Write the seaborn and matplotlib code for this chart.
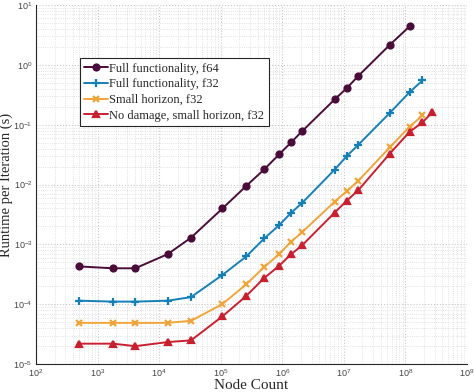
import numpy as np
import pandas as pd
import seaborn as sns
import matplotlib.pyplot as plt
from matplotlib.ticker import LogLocator, NullFormatter

# node counts shared by the runs
nodes = [500, 1780, 4100, 13800, 33000, 107000, 260000, 510000, 890000,
         1.4e6, 2.13e6, 7.1e6, 1.12e7, 1.71e7, 5.6e7, 1.17e8, 1.9e8, 2.75e8]

# runtime per iteration (s)
full_f64 = [4.3e-4, 4.0e-4, 4.0e-4, 6.9e-4, 1.3e-3, 4.0e-3, 9.5e-3, 1.8e-2, 3.2e-2,
            0.051, 0.079, 0.265, 0.41, 0.65, 2.17, 4.4]
full_f32 = [1.15e-4, 1.11e-4, 1.11e-4, 1.15e-4, 1.32e-4, 3.1e-4, 6.3e-4, 1.26e-3, 2.1e-3,
            3.4e-3, 5.0e-3, 1.78e-2, 0.030, 0.046, 0.158, 0.35, 0.55]
small_f32 = [4.9e-5, 4.9e-5, 4.9e-5, 4.9e-5, 5.3e-5, 1.01e-4, 2.16e-4, 4.2e-4, 6.9e-4,
             1.12e-3, 1.62e-3, 5.2e-3, 7.8e-3, 1.15e-2, 0.042, 0.093, 0.143]
nodmg_f32 = [2.2e-5, 2.2e-5, 2.0e-5, 2.34e-5, 2.5e-5, 6.3e-5, 1.38e-4, 2.75e-4, 4.4e-4,
             6.9e-4, 9.8e-4, 3.4e-3, 5.4e-3, 8.0e-3, 0.033, 0.076, 0.110, 0.161]

labels = ["Full functionality, f64", "Full functionality, f32",
          "Small horizon, f32", "No damage, small horizon, f32"]
series = [full_f64, full_f32, small_f32, nodmg_f32]
colors = ["#4a0c38", "#1580b5", "#f0a53a", "#c9202f"]
markers = ["o", "+", "x", "^"]
msizes = [4.3, 6, 5, 5]

sns.set_theme(style="white")
plt.rcParams["font.family"] = ["Liberation Serif", "DejaVu Serif"]

fig = plt.figure(figsize=(4.74, 3.92), dpi=100)
ax = fig.add_axes([0.076, 0.071, 0.909, 0.916])

for lab, vals, c, m, ms in zip(labels, series, colors, markers, msizes):
    d = pd.DataFrame({"Nodes": nodes[:len(vals)], "Runtime": vals})
    sns.lineplot(data=d, x="Nodes", y="Runtime", color=c, marker=m, label=lab,
                 linewidth=1.4, markersize=ms, markeredgewidth=1.6,
                 markeredgecolor=c, ax=ax)

ax.set_xscale("log")
ax.set_yscale("log")
ax.set_xlim(1e2, 1e9)
ax.set_ylim(1e-5, 1e1)

ax.xaxis.set_major_locator(LogLocator(base=10, numticks=20))
ax.yaxis.set_major_locator(LogLocator(base=10, numticks=20))
ax.xaxis.set_minor_locator(LogLocator(base=10, subs=np.arange(2, 10), numticks=100))
ax.yaxis.set_minor_locator(LogLocator(base=10, subs=np.arange(2, 10), numticks=100))
ax.xaxis.set_minor_formatter(NullFormatter())
ax.yaxis.set_minor_formatter(NullFormatter())

ax.grid(True, which="major", color="#c8c8c8", linestyle=":", linewidth=0.8)
ax.grid(True, which="minor", color="#d8d8d8", linestyle=":", linewidth=0.6)
ax.set_axisbelow(True)

for s in ["top", "right"]:
    ax.spines[s].set_visible(False)
for s in ["left", "bottom"]:
    ax.spines[s].set_color("#262626")
    ax.spines[s].set_linewidth(0.8)
ax.tick_params(which="both", direction="in", color="#262626", labelcolor="#444444")
ax.tick_params(which="major", length=4, labelsize=6.5, pad=2.5)
ax.tick_params(which="minor", length=2)
for t in ax.get_xticklabels() + ax.get_yticklabels():
    t.set_family(["Liberation Sans", "DejaVu Sans"])

ax.set_xlabel("Node Count", fontsize=11)
ax.set_ylabel("Runtime per Iteration (s)", fontsize=10.5)
ax.xaxis.set_label_coords(0.5, -0.041, transform=ax.transAxes)
ax.xaxis.label.set_va("top")
ax.yaxis.set_label_coords(-0.068, 0.5, transform=ax.transAxes)
ax.yaxis.label.set_va("center")

leg = ax.legend(loc="upper left", bbox_to_anchor=(0.102, 0.852), fontsize=9,
                frameon=True, fancybox=False, framealpha=1, edgecolor="#262626",
                handlelength=1.9, handletextpad=0.1, borderpad=0.35,
                borderaxespad=0, labelspacing=0.3)
leg.get_frame().set_linewidth(0.8)

fig.savefig("out.png", dpi=100)
